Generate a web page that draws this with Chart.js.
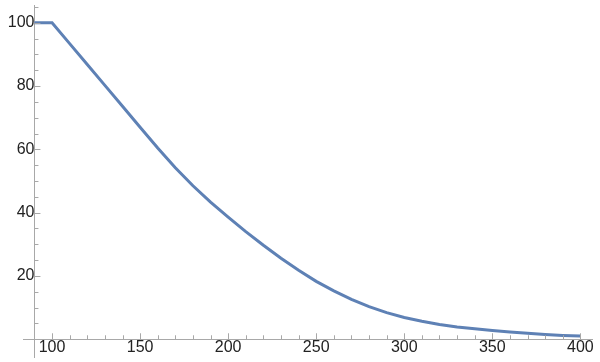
<!DOCTYPE html>
<html>
<head>
<meta charset="utf-8">
<script src="https://cdn.jsdelivr.net/npm/chart.js@4/dist/chart.umd.min.js"></script>
<style>
  body { margin: 0; background: #fff; }
  canvas { display: block; }
</style>
</head>
<body>
<canvas id="grafico" width="600" height="362"></canvas>
<script>
// valores
const valoresX = [90, 100, 110, 120, 130, 140, 150, 160, 170, 180, 190, 200, 210, 220, 230, 240, 250,
  260, 270, 280, 290, 300, 310, 320, 330, 340, 350, 360, 370, 380, 390, 400];
const valoresY = [100, 100, 93.4, 86.8, 80.2, 73.6, 67.0, 60.4, 54.2, 48.5, 43.3, 38.6, 34.0, 29.7, 25.6, 21.8, 18.3,
  15.3, 12.6, 10.3, 8.4, 6.9, 5.7, 4.7, 3.9, 3.3, 2.8, 2.3, 1.9, 1.5, 1.2, 1.0];

const ticksX = [100, 150, 200, 250, 300, 350, 400];
const ticksY = [20, 40, 60, 80, 100];
const menoresX = [100, 110, 120, 130, 140, 150, 160, 170, 180, 190, 200, 210, 220, 230, 240, 250,
  260, 270, 280, 290, 300, 310, 320, 330, 340, 350, 360, 370, 380, 390, 400];
const menoresY = [5, 10, 15, 20, 25, 30, 35, 40, 45, 50, 55, 60, 65, 70, 75, 80, 85, 90, 95, 100, 105];

const corEixo = '#a8a8a8';
const fonte = { family: 'Liberation Sans, Arial, sans-serif', size: 16 };

// tracinhos para dentro, estilo Mathematica
const tracinhos = {
  id: 'tracinhos',
  afterDraw(chart) {
    const ctx = chart.ctx;
    const sx = chart.scales.x, sy = chart.scales.y;
    const y0 = sy.getPixelForValue(0);
    const x0 = sx.getPixelForValue(90);
    ctx.save();
    ctx.strokeStyle = corEixo;
    ctx.lineWidth = 1;
    ctx.beginPath();
    menoresX.forEach(v => {
      const px = Math.round(sx.getPixelForValue(v)) + 0.5;
      const len = ticksX.includes(v) ? 6 : 4;
      ctx.moveTo(px, y0);
      ctx.lineTo(px, y0 - len);
    });
    menoresY.forEach(v => {
      const py = Math.round(sy.getPixelForValue(v)) + 0.5;
      const len = ticksY.includes(v) ? 6 : 4;
      ctx.moveTo(x0, py);
      ctx.lineTo(x0 + len, py);
    });
    ctx.stroke();
    ctx.restore();
  }
};

const pontos = valoresX.map((x, i) => ({ x: x, y: valoresY[i] }));

new Chart(document.getElementById('grafico'), {
  type: 'line',
  data: {
    datasets: [{
      data: pontos,
      borderColor: 'rgb(94,129,181)',
      borderWidth: 3,
      pointRadius: 0,
      tension: 0,
      fill: false
    }]
  },
  options: {
    responsive: false,
    animation: false,
    layout: { padding: { left: 23, right: 8, top: 5, bottom: 5 } },
    plugins: { legend: { display: false }, tooltip: { enabled: false } },
    scales: {
      x: {
        type: 'linear',
        position: { y: 0 },
        min: 83.5,
        max: 406.6,
        afterBuildTicks: s => { s.ticks = ticksX.map(v => ({ value: v })); },
        afterFit: s => { s.paddingLeft = 0; s.paddingRight = 0; },
        grid: { display: false, tickLength: 0 },
        border: { display: true, color: corEixo, width: 1 },
        ticks: { font: fonte, color: '#222', padding: -1, maxRotation: 0 }
      },
      y: {
        type: 'linear',
        position: { x: 90 },
        min: -5.6,
        max: 105.6,
        afterBuildTicks: s => { s.ticks = ticksY.map(v => ({ value: v })); },
        afterFit: s => { s.paddingTop = 0; s.paddingBottom = 0; },
        grid: { display: false },
        border: { display: true, color: corEixo, width: 1 },
        ticks: { font: fonte, color: '#222', padding: 5 }
      }
    }
  },
  plugins: [tracinhos]
});
</script>
</body>
</html>
